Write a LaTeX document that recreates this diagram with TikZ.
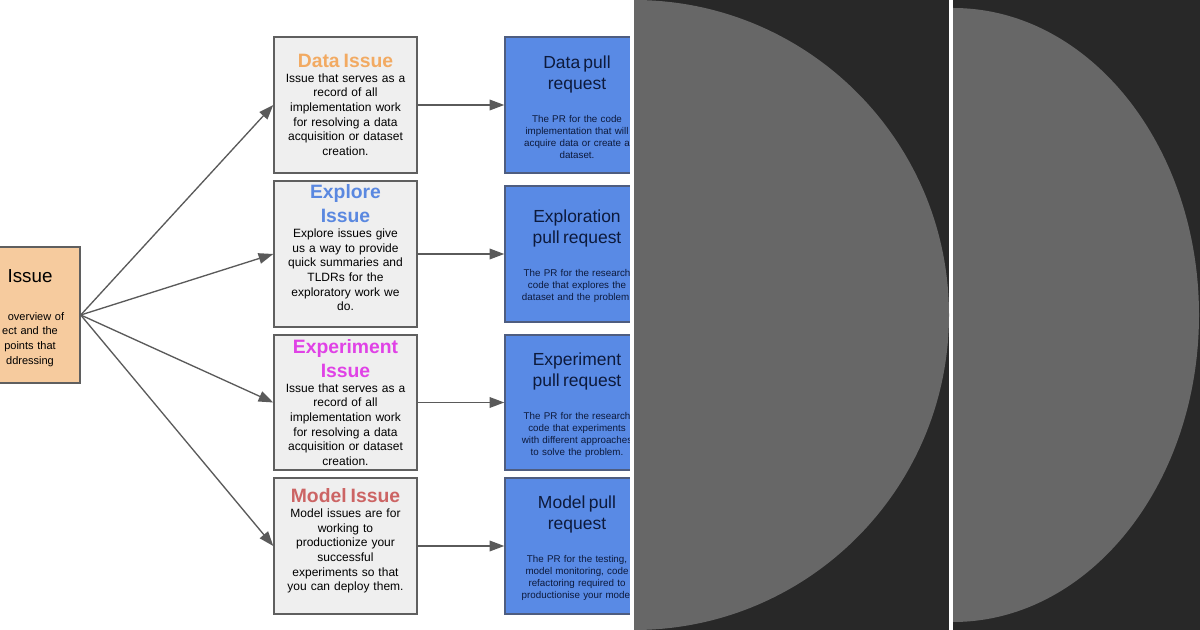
\documentclass[tikz,border=0pt]{standalone}
\usepackage{fontspec}
\setmainfont{Liberation Sans}
\usetikzlibrary{arrows.meta}
\setlength{\parindent}{0pt}

\definecolor{boxline}{HTML}{5F5F5F}
\definecolor{linkgray}{HTML}{5A5A5A}
\definecolor{epicfill}{HTML}{F6CB9E}
\definecolor{issuefill}{HTML}{EFEFEF}
\definecolor{prfill}{HTML}{598AE5}
\definecolor{prline}{HTML}{4E5D80}
\definecolor{prink}{HTML}{0D1A3C}
\definecolor{dataorange}{HTML}{F2AA62}
\definecolor{exploreblue}{HTML}{5A88E0}
\definecolor{expmagenta}{HTML}{E042E6}
\definecolor{modelred}{HTML}{CC6464}
\definecolor{darkbg}{HTML}{282828}
\definecolor{discgray}{HTML}{676767}

\newcommand\issuetitle[2]{{\fontsize{14.5}{18}\selectfont\bfseries\color{#1}#2\par}}
\newcommand\prtitle[1]{{\fontsize{13.1}{15.75}\selectfont #1\par}\vskip15.75pt}

\begin{document}
\begin{tikzpicture}[x=0.75pt,y=-0.75pt,
    box/.style={line width=1.1pt,inner sep=0pt,text width=105pt,align=center,
        minimum width=107.25pt,minimum height=102pt},
    issuebox/.style={box,draw=boxline,fill=issuefill,font=\fontsize{9}{11}\selectfont},
    prbox/.style={box,draw=prline,fill=prfill,text=prink,minimum width=108pt,
        text height=12.9pt,font=\fontsize{7.35}{9}\selectfont},
    link/.style={draw=linkgray,line width=1pt,-{Triangle[length=11pt,width=8pt]}}]
    \useasboundingbox (0,0) rectangle (1200,630);
    \clip (0,0) rectangle (1200,630);

    % the top issue, cut by the left edge
    \node[draw=boxline,line width=1.1pt,fill=epicfill,minimum width=108pt,minimum height=102pt] (epic) at (8,315) {};
    \node[text width=80pt,align=center,inner sep=0pt,font=\fontsize{8.25}{11}\selectfont] (epictext) at (30,318)
        {{\fontsize{14.1}{17}\selectfont Issue\par}\vskip17.5pt
        \hspace*{9pt}overview of\\ect and the\\points that\\ddressing};

    % issues
    \node[issuebox] (dataiss) at (345.5,105)
        {\issuetitle{dataorange}{Data Issue}Issue that serves as a\\record of all\\implementation work\\for resolving a data\\acquisition or dataset\\creation.};
    \node[issuebox,minimum height=109.5pt,text height=1.4pt] (expliss) at (345.5,254)
        {\issuetitle{exploreblue}{Explore\\Issue}Explore issues give\\us a way to provide\\quick summaries and\\TLDRs for the\\exploratory work we\\do.};
    \node[issuebox,minimum height=101.25pt] (expiss) at (345.5,402.5)
        {\issuetitle{expmagenta}{Experiment\\Issue}Issue that serves as a\\record of all\\implementation work\\for resolving a data\\acquisition or dataset\\creation.};
    \node[issuebox,text height=2.9pt] (modiss) at (345.5,546)
        {\issuetitle{modelred}{Model Issue}Model issues are for\\working to\\productionize your\\successful\\experiments so that\\you can deploy them.};

    % pull requests
    \node[prbox] (datapr) at (577,105)
        {\prtitle{Data pull\\request}The PR for the code\\implementation that will\\acquire data or create a\\dataset.};
    \node[prbox] (explpr) at (577,254)
        {\prtitle{Exploration\\pull request}The PR for the research\\code that explores the\\dataset and the problem.};
    \node[prbox,minimum height=101.25pt] (exppr) at (577,402.5)
        {\prtitle{Experiment\\pull request}The PR for the research\\code that experiments\\with different approaches\\to solve the problem.};
    \node[prbox] (modpr) at (577,546)
        {\prtitle{Model pull\\request}The PR for the testing,\\model monitoring, code\\refactoring required to\\productionise your model};

    \foreach \n in {dataiss,expliss,expiss,modiss}
        \draw[link] (epic.east) -- (\n.west);
    \foreach \a/\b in {dataiss/datapr,expliss/explpr,expiss/exppr,modiss/modpr}
        \draw[link] (\a) -- (\b);

    % dark side with the two discs
    \fill[white] (630,0) rectangle (634,630);
    \fill[darkbg] (634,0) rectangle (1200,630);
    \fill[white] (949,0) rectangle (953,630);
    \begin{scope}
        \clip (634,0) rectangle (949,630);
        \fill[discgray] (634,315) ellipse [x radius=315,y radius=315];
    \end{scope}
    \begin{scope}
        \clip (953,0) rectangle (1200,630);
        \fill[discgray] (953,315) ellipse [x radius=246,y radius=307];
    \end{scope}
\end{tikzpicture}
\end{document}
